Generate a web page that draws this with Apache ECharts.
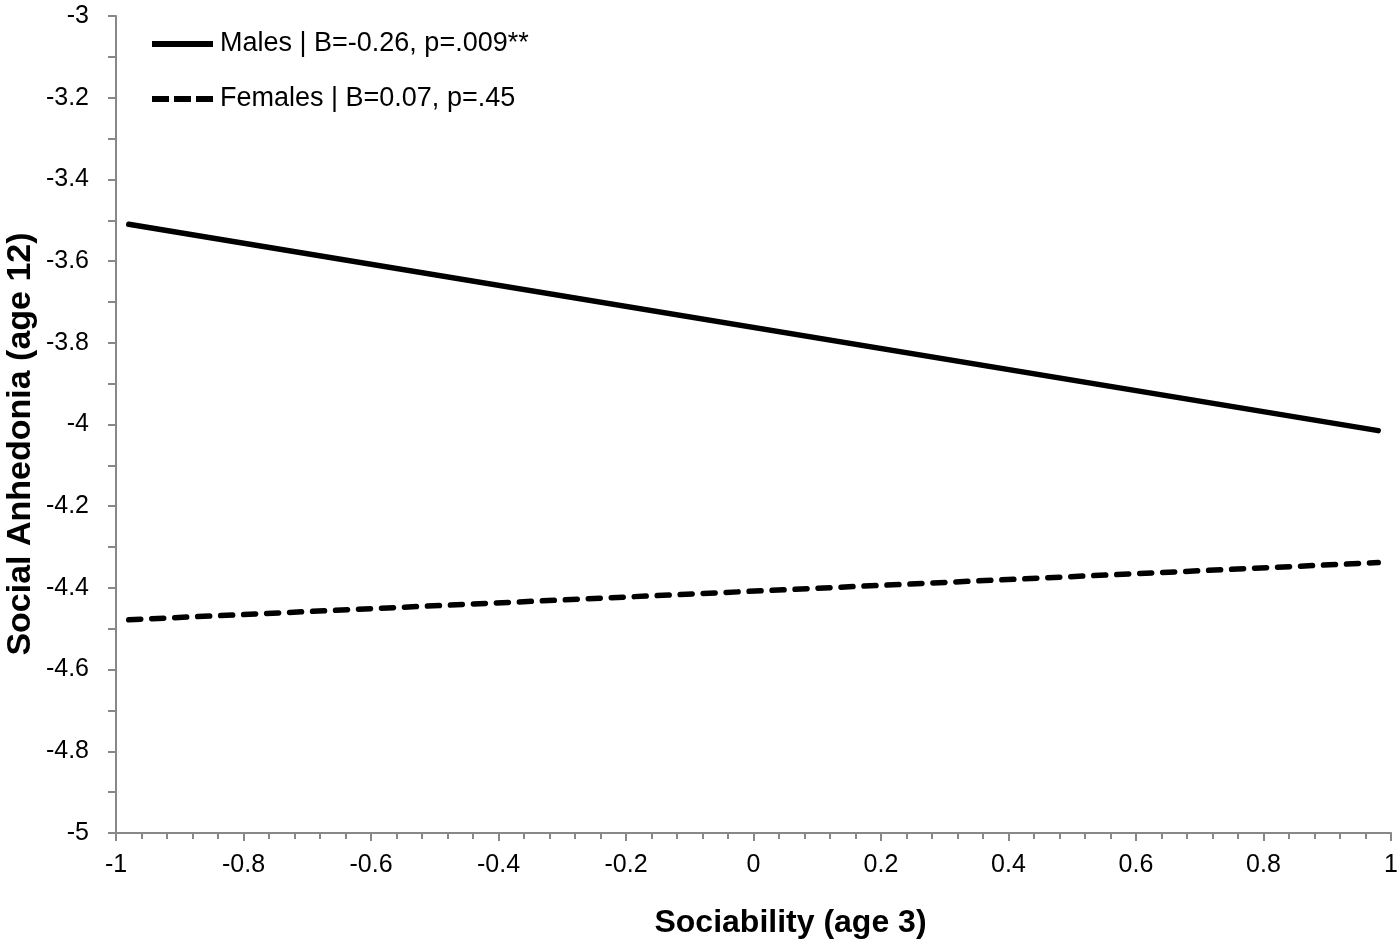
<!DOCTYPE html>
<html>
<head>
<meta charset="utf-8">
<script src="https://cdn.jsdelivr.net/npm/echarts@6/dist/echarts.min.js"></script>
<style>
    html, body {margin: 0; padding: 0; background: #fff;}
    #main {width: 1400px; height: 946px;}
</style>
</head>
<body>
<div id="main"></div>
<script>
// 数据：x 为社交性 (age 3)，y 为社交快感缺失 (age 12)
var xValues = [-0.98, 0.98];
var malesValues = [-3.51, -4.015];
var femalesValues = [-4.478, -4.338];
var seriesNames = ['Males | B=-0.26, p=.009**', 'Females | B=0.07, p=.45'];

var FONT = 'Liberation Sans, Arial, sans-serif';

function toPairs(xs, ys) {
    let out = [];
    for (let i = 0; i < xs.length; i++) {
        out.push([xs[i], ys[i]]);
    }
    return out;
}

// 图例图标：实线与虚线
var solidIcon = 'path://M0 0h61v6H0z';
var dashIcon = 'path://M0 0h17v6H0z M22 0h17v6H22z M44 0h17v6H44z';

var myChart = echarts.init(document.getElementById('main'));
myChart.setOption({
    backgroundColor: '#fff',
    animation: false,
    grid: {
        left: 116,
        right: 9,
        top: 16,
        bottom: 113,
        containLabel: false,
        outerBoundsMode: 'none'
    },
    // y 轴标题单独放置
    graphic: [
        {
            type: 'text',
            x: 21,
            y: 444,
            rotation: Math.PI / 2,
            style: {
                text: 'Social Anhedonia (age 12)',
                fontFamily: FONT,
                fontSize: 34,
                fontWeight: 'bold',
                fill: '#000',
                align: 'center',
                verticalAlign: 'middle'
            }
        }
    ],
    legend: {
        orient: 'vertical',
        left: 152,
        top: 29,
        padding: 0,
        itemWidth: 61,
        itemHeight: 6,
        itemGap: 25,
        itemStyle: {color: '#000', borderWidth: 0},
        data: [
            {name: seriesNames[0], icon: solidIcon},
            {name: seriesNames[1], icon: dashIcon}
        ],
        textStyle: {
            fontFamily: FONT,
            fontSize: 27,
            color: '#000',
            lineHeight: 30,
            padding: [0, 0, 0, 2]
        }
    },
    xAxis: {
        type: 'value',
        min: -1,
        max: 1,
        interval: 0.2,
        name: 'Sociability (age 3)',
        nameLocation: 'middle',
        nameGap: 74,
        nameTextStyle: {
            fontFamily: FONT,
            fontSize: 32,
            fontWeight: 'bold',
            color: '#000',
            padding: [0, 0, 0, 74]
        },
        axisLine: {show: true, onZero: false, lineStyle: {color: '#888', width: 2}},
        axisTick: {show: true, length: 8, lineStyle: {color: '#888', width: 2}},
        minorTick: {show: true, splitNumber: 5, length: 6, lineStyle: {color: '#888', width: 2}},
        splitLine: {show: false},
        axisLabel: {
            margin: 20,
            fontFamily: FONT,
            fontSize: 25,
            color: '#000',
            formatter: function (v) {
                return String(Math.round(v * 10) / 10);
            }
        }
    },
    yAxis: {
        type: 'value',
        min: -5,
        max: -3,
        interval: 0.2,
        axisLine: {show: true, onZero: false, lineStyle: {color: '#888', width: 2}},
        axisTick: {show: true, length: 8, lineStyle: {color: '#888', width: 2}},
        minorTick: {show: true, splitNumber: 2, length: 8, lineStyle: {color: '#888', width: 2}},
        splitLine: {show: false},
        axisLabel: {
            margin: 27,
            fontFamily: FONT,
            fontSize: 25,
            color: '#000',
            formatter: function (v) {
                return String(Math.round(v * 10) / 10);
            }
        }
    },
    series: [
        {
            name: seriesNames[0],
            type: 'line',
            symbol: 'none',
            data: toPairs(xValues, malesValues),
            lineStyle: {color: '#000', width: 5.5, cap: 'round'},
            itemStyle: {color: '#000'}
        },
        {
            name: seriesNames[1],
            type: 'line',
            symbol: 'none',
            data: toPairs(xValues, femalesValues),
            lineStyle: {color: '#000', width: 5.5, type: [12, 11], cap: 'round'},
            itemStyle: {color: '#000'}
        }
    ]
});
</script>
</body>
</html>
